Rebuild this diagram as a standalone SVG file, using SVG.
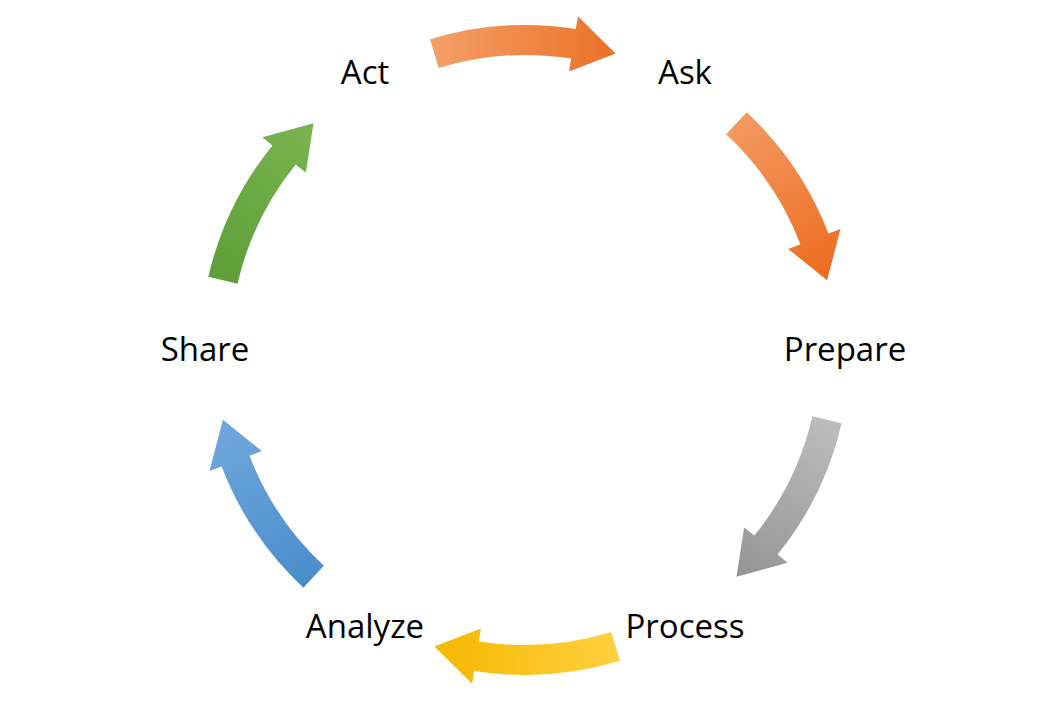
<svg xmlns="http://www.w3.org/2000/svg" width="1050" height="702" viewBox="0 0 1050 702">
<style>
text{font-family:"Open Sans","Liberation Sans",sans-serif;font-size:33px;fill:#000;text-anchor:middle}
</style>
<defs>
<path id="arr" d="M430,39.2 A325,325 0 0 1 575.8,29 L577.9,16.2 L615.6,53.5 L569.1,71.5 L571.1,58.6 A295,295 0 0 0 438.7,67.9 Z"/>
<linearGradient id="gO" x1="0" y1="0" x2="1" y2="0"><stop offset="0" stop-color="#F4A06A"/><stop offset="1" stop-color="#EB7125"/></linearGradient>
<linearGradient id="gO2" x1="0" y1="0" x2="1" y2="0"><stop offset="0" stop-color="#F39A63"/><stop offset="1" stop-color="#EC6B1E"/></linearGradient>
<linearGradient id="gG" x1="0" y1="0" x2="1" y2="0"><stop offset="0" stop-color="#BDBDBD"/><stop offset="1" stop-color="#959595"/></linearGradient>
<linearGradient id="gY" x1="0" y1="0" x2="1" y2="0"><stop offset="0" stop-color="#FFD040"/><stop offset="1" stop-color="#F5B800"/></linearGradient>
<linearGradient id="gB" x1="0" y1="0" x2="1" y2="0"><stop offset="0" stop-color="#4A8CCB"/><stop offset="1" stop-color="#6FA8DC"/></linearGradient>
<linearGradient id="gGr" x1="0" y1="0" x2="1" y2="0"><stop offset="0" stop-color="#5E9E38"/><stop offset="1" stop-color="#7AB450"/></linearGradient>
</defs>
<g id="connectors">
<use href="#arr" fill="url(#gO)"/>
<use href="#arr" fill="url(#gO2)" transform="rotate(60 525 350)"/>
<use href="#arr" fill="url(#gG)" transform="rotate(120 525 350)"/>
<use href="#arr" fill="url(#gY)" transform="rotate(180 525 350)"/>
<use href="#arr" fill="url(#gB)" transform="rotate(240 525 350)"/>
<use href="#arr" fill="url(#gGr)" transform="rotate(300 525 350)"/>
</g>
<g id="act"><text x="365" y="84">Act</text></g>
<g id="ask"><text x="685" y="84">Ask</text></g>
<g id="prepare"><text x="845" y="361">Prepare</text></g>
<g id="process"><text x="685" y="638">Process</text></g>
<g id="analyze"><text x="365" y="638">Analyze</text></g>
<g id="share"><text x="205" y="361">Share</text></g>
</svg>
